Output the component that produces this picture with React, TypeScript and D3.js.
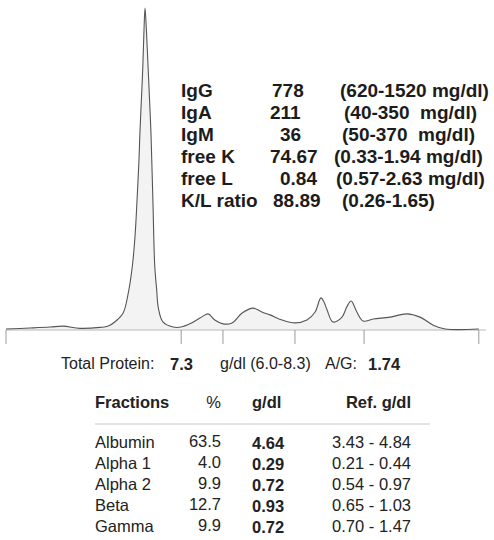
import React from 'react';
import * as d3 from 'd3';

// Densitometry trace: relative mobility (0-100) and relative density (0-100)
const mobility = [
  0, 5, 9.2, 11.9, 15.4, 19.6, 21.3, 22.9, 24.4, 25.4, 26.3, 26.9, 27.3, 27.7, 27.9, 28.3, 28.5, 28.75, 28.96,
  29.2, 29.6, 30.0, 30.2, 30.6, 31.0, 31.4, 31.7, 32.7, 34.8, 36.5, 38.3, 40.4, 42.1, 43.5, 45.2, 47.1, 49.2,
  51.5, 53.3, 55.0, 57.5, 60.2, 62.7, 64.4, 65.6, 66.25, 66.9, 68.1, 70.0, 71.0, 71.9, 73.1, 74.4, 76.5, 80.0,
  83.5, 86.25, 89.0, 91.5, 98.5,
];
const density = [
  0, 0.3, 0.6, 0.9, 0.2, 0.5, 0.9, 2.5, 5.0, 10.6, 19.3, 29.3, 40.2, 52.6, 61.1, 74.5, 81.6, 93.1, 100,
  94.7, 81.6, 68.2, 61.1, 40.2, 19.3, 12.1, 6.9, 2.2, 0.6, 0.6, 1.6, 3.4, 4.7, 2.8, 1.6, 1.9, 5.0,
  6.5, 5.3, 4.4, 2.8, 1.9, 2.8, 5.3, 9.7, 8.4, 5.9, 2.2, 3.7, 6.9, 8.7, 5.3, 2.5, 3.1, 3.7,
  4.7, 3.7, 1.2, 0, 0,
];
// Fraction cut points on the mobility axis
const fractionCuts = [0, 36.5, 45.2, 60.2, 74.6, 98.5];

const immunoLabels = ['IgG', 'IgA', 'IgM', 'free K', 'free L', 'K/L ratio'];
const immunoValues = ['778', '211', '36', '74.67', '0.84', '88.89'];
const immunoRanges = [
  '(620-1520 mg/dl)',
  '(40-350  mg/dl)',
  '(50-370  mg/dl)',
  '(0.33-1.94 mg/dl)',
  '(0.57-2.63 mg/dl)',
  '(0.26-1.65)',
];

const totalProtein = '7.3';
const totalProteinRange = 'g/dl (6.0-8.3)';
const agRatio = '1.74';

const fractionHeaders = ['Fractions', '%', 'g/dl', 'Ref. g/dl'];
const fractionNames = ['Albumin', 'Alpha 1', 'Alpha 2', 'Beta', 'Gamma'];
const fractionPercent = ['63.5', '4.0', '9.9', '12.7', '9.9'];
const fractionGdl = ['4.64', '0.29', '0.72', '0.93', '0.72'];
const fractionRef = ['3.43 - 4.84', '0.21 - 0.44', '0.54 - 0.97', '0.65 - 1.03', '0.70 - 1.47'];

const font = 'Liberation Sans, Arial, Helvetica, sans-serif';

const App: React.FC = () => {
  const width = 494;
  const height = 540;

  const x = d3.scaleLinear().domain([0, 100]).range([6, 486]);
  const y = d3.scaleLinear().domain([0, 100]).range([329, 8]);
  const baseY = 330;

  const points = mobility.map((m, i) => ({ m, d: density[i] }));

  const line = d3
    .line<{ m: number; d: number }>()
    .x((p) => x(p.m))
    .y((p) => y(p.d))
    .curve(d3.curveCatmullRom.alpha(0.5));

  const area = d3
    .area<{ m: number; d: number }>()
    .x((p) => x(p.m))
    .y0(baseY)
    .y1((p) => y(p.d))
    .curve(d3.curveCatmullRom.alpha(0.5));

  // layout of the immunoglobulin block
  const igRowY = (i: number) => 97 + i * 22;
  const igValueX = [272, 270, 280, 270, 280, 273];
  const igRangeX = [340, 344, 342, 334, 336, 342];

  // layout of the fraction table
  const rowY = (i: number) => 448 + i * 21;

  return (
    <svg
      width={width}
      height={height}
      style={{ position: 'absolute', left: 0, top: 0, background: '#fff' }}
      fontFamily={font}
    >
      {/* trace */}
      <path d={area(points) ?? ''} fill="#f3f3f3" />
      <line x1={x(0)} x2={x(100)} y1={baseY} y2={baseY} stroke="#b8b8b8" strokeWidth={1} />
      {fractionCuts.map((c, i) => (
        <line key={i} x1={x(c)} x2={x(c)} y1={baseY} y2={baseY + 14} stroke="#9a9a9a" strokeWidth={1} />
      ))}
      <path d={line(points) ?? ''} fill="none" stroke="#555" strokeWidth={1.1} />

      {/* immunoglobulins */}
      <g fontWeight="bold" fontSize={19} fill="#1c1c1c">
        {immunoLabels.map((l, i) => (
          <g key={l}>
            <text x={181} y={igRowY(i)}>{l}</text>
            <text x={igValueX[i]} y={igRowY(i)}>{immunoValues[i]}</text>
            <text x={igRangeX[i]} y={igRowY(i)} xmlSpace="preserve" style={{ whiteSpace: 'pre' }}>
              {immunoRanges[i]}
            </text>
          </g>
        ))}
      </g>

      {/* total protein */}
      <g fontSize={16} fill="#222">
        <text x={61} y={369}>Total Protein:</text>
        <text x={170} y={370} fontWeight="bold" fontSize={16.5}>{totalProtein}</text>
        <text x={220} y={369}>{totalProteinRange}</text>
        <text x={325} y={369}>A/G:</text>
        <text x={368} y={370} fontWeight="bold" fontSize={16.5}>{agRatio}</text>
      </g>

      {/* fraction table */}
      <g fontSize={16.5} fill="#222">
        <text x={95} y={408} fontWeight="bold">{fractionHeaders[0]}</text>
        <text x={221} y={408} textAnchor="end">{fractionHeaders[1]}</text>
        <text x={252} y={408} fontWeight="bold">{fractionHeaders[2]}</text>
        <text x={411} y={408} textAnchor="end" fontWeight="bold">{fractionHeaders[3]}</text>
        <line x1={95} x2={430} y1={424} y2={424} stroke="#c8c8c8" strokeWidth={1} />
        {fractionNames.map((n, i) => (
          <g key={n}>
            <text x={95} y={rowY(i)}>{n}</text>
            <text x={221} y={rowY(i) - 1} textAnchor="end">{fractionPercent[i]}</text>
            <text x={252} y={rowY(i) + 1} fontWeight="bold">{fractionGdl[i]}</text>
            <text x={411} y={rowY(i)} textAnchor="end">{fractionRef[i]}</text>
          </g>
        ))}
      </g>
    </svg>
  );
};

export default App;
